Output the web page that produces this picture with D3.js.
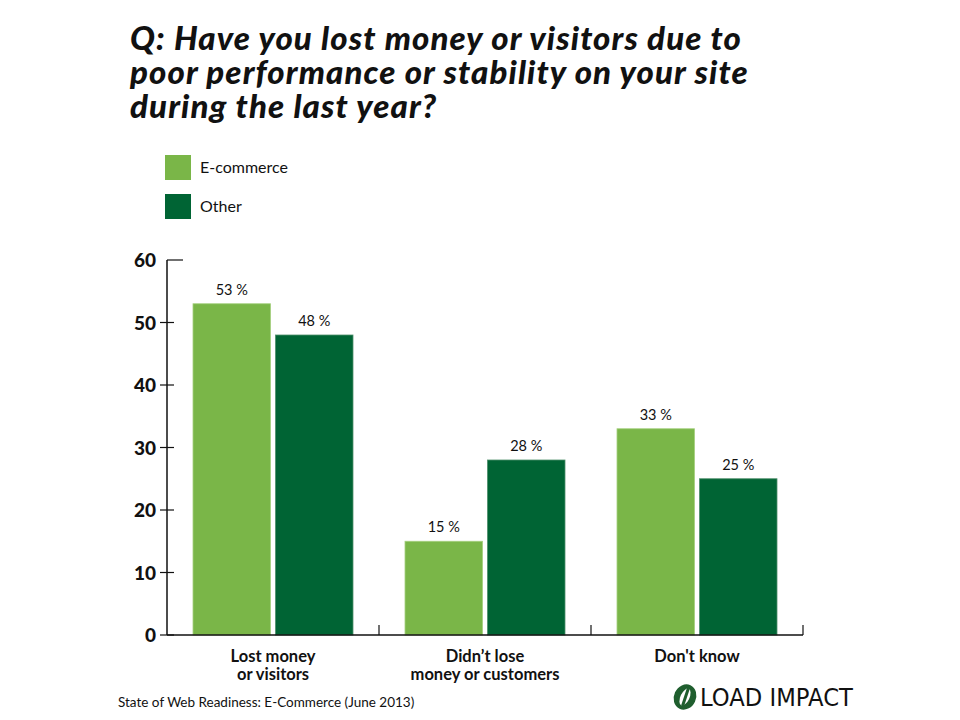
<!DOCTYPE html>
<html>
<head>
<meta charset="utf-8">
<script src="https://cdn.jsdelivr.net/npm/d3@7"></script>
<style>
  body { margin: 0; background: #fff; }
  text { font-family: Lato, "Open Sans", sans-serif; fill: #111; }
</style>
</head>
<body>
<div id="chart"></div>
<script>
// data
var categories = [["Lost money", "or visitors"], ["Didn\u2019t lose", "money or customers"], ["Don't know"]];
var seriesNames = ["E-commerce", "Other"];
var ecommerce = [53, 15, 33];
var other = [48, 28, 25];
var yTicks = [0, 10, 20, 30, 40, 50, 60];
var colors = ["#7ab648", "#006434"];

var svgWidth = 960, svgHeight = 720;
var margin = { top: 260, left: 167, right: 157, bottom: 85 };

var svg = d3.select("#chart").append("svg")
  .attr("width", svgWidth)
  .attr("height", svgHeight);

// title
var titleLines = ["Q: Have you lost money or visitors due to",
                  "poor performance or stability on your site",
                  "during the last year?"];
svg.append("text")
  .attr("x", 130).attr("y", 50)
  .style("font-size", "33px").style("font-weight", 900).style("font-style", "italic")
  .style("letter-spacing", "1.1px")
  .selectAll("tspan").data(titleLines).enter().append("tspan")
  .attr("x", 130).attr("dy", (d, i) => i == 0 ? 0 : 34)
  .text(d => d);

// legend
var legend = svg.append("g").selectAll("g").data(seriesNames).enter().append("g")
  .attr("transform", (d, i) => `translate(165, ${155 + i * 39})`);
legend.append("rect").attr("width", 26).attr("height", 25)
  .attr("fill", (d, i) => colors[i]);
legend.append("text").attr("x", 35).attr("y", 18)
  .style("font-size", "16px").text(d => d);

var x0 = d3.scaleBand()
  .domain(d3.range(categories.length))
  .range([margin.left, svgWidth - margin.right]);

var x1 = d3.scaleBand()
  .domain(d3.range(seriesNames.length))
  .range([26, x0.bandwidth() - 26])
  .paddingInner(0.06);

var y = d3.scaleLinear()
  .domain([0, 60])
  .range([svgHeight - margin.bottom, margin.top]);

var groups = svg.append("g").selectAll("g")
  .data(categories.map((c, i) => [ecommerce[i], other[i]]))
  .enter().append("g")
  .attr("transform", (d, i) => `translate(${x0(i)},0)`);

groups.selectAll("rect").data(d => d).enter().append("rect")
  .attr("x", (d, j) => x1(j))
  .attr("y", d => y(d))
  .attr("width", x1.bandwidth())
  .attr("height", d => y(0) - y(d))
  .attr("fill", (d, j) => colors[j])
  .attr("stroke", (d, j) => j == 0 ? "#a6d07f" : "#4f8f6c")
  .attr("stroke-width", 0.8);

groups.selectAll(".val").data(d => d).enter().append("text")
  .attr("class", "val")
  .attr("x", (d, j) => x1(j) + x1.bandwidth() / 2)
  .attr("y", d => y(d) - 9)
  .attr("text-anchor", "middle")
  .style("font-size", "14.5px")
  .text(d => d + " %");

// y axis
var yAxis = svg.append("g").attr("transform", `translate(${margin.left},0)`);
yAxis.append("line")
  .attr("x1", 0).attr("x2", 0).attr("y1", y(60)).attr("y2", y(0))
  .attr("stroke", "#111").attr("stroke-width", 1.5);
yAxis.selectAll(".tk").data(yTicks).enter().append("line")
  .attr("x1", d => d == 60 ? 0 : -7).attr("x2", d => d == 60 ? 16 : 7)
  .attr("y1", d => y(d)).attr("y2", d => y(d))
  .attr("stroke", "#111").attr("stroke-width", 1.2);
yAxis.selectAll(".lbl").data(yTicks).enter().append("text")
  .attr("x", -11).attr("y", d => y(d)).attr("dy", "0.38em")
  .attr("text-anchor", "end")
  .style("font-size", "19px").style("font-weight", 900)
  .text(d => d);

// x axis
var xAxis = svg.append("g").attr("transform", `translate(0,${y(0)})`);
xAxis.append("line")
  .attr("x1", margin.left).attr("x2", svgWidth - margin.right)
  .attr("stroke", "#111").attr("stroke-width", 1.5);
xAxis.selectAll(".tk").data(d3.range(1, categories.length + 1)).enter().append("line")
  .attr("x1", d => x0(d - 1) + x0.bandwidth()).attr("x2", d => x0(d - 1) + x0.bandwidth())
  .attr("y1", -10).attr("y2", 0)
  .attr("stroke", "#111").attr("stroke-width", 1.2);
xAxis.selectAll(".cat").data(categories).enter().append("text")
  .attr("x", (d, i) => x0(i) + x0.bandwidth() / 2)
  .attr("y", 27)
  .attr("text-anchor", "middle")
  .style("font-size", "16.5px").style("font-weight", 700)
  .selectAll("tspan").data(d => d).enter().append("tspan")
  .attr("x", function () { return this.parentNode.getAttribute("x"); })
  .attr("dy", (d, i) => i == 0 ? 0 : 18)
  .text(d => d);

// source
svg.append("text").attr("x", 118).attr("y", 707)
  .style("font-size", "13.5px").text("State of Web Readiness: E-Commerce (June 2013)");

// logo
var logo = svg.append("g").attr("transform", "translate(685,697)");
logo.append("ellipse").attr("rx", 11).attr("ry", 13)
  .attr("transform", "rotate(25)").attr("fill", "#1f5e2e");
logo.append("ellipse").attr("rx", 4.5).attr("ry", 9)
  .attr("transform", "rotate(25)").attr("fill", "#fff");
logo.append("line").attr("x1", -2.5).attr("y1", 9).attr("x2", 3.5).attr("y2", -9)
  .attr("stroke", "#1f5e2e").attr("stroke-width", 3);
logo.append("text").attr("x", 15).attr("y", 9)
  .attr("textLength", 153).attr("lengthAdjust", "spacingAndGlyphs")
  .style("font-size", "25px")
  .style("font-family", "'DejaVu Sans', sans-serif")
  .text("LOAD IMPACT");
</script>
</body>
</html>
